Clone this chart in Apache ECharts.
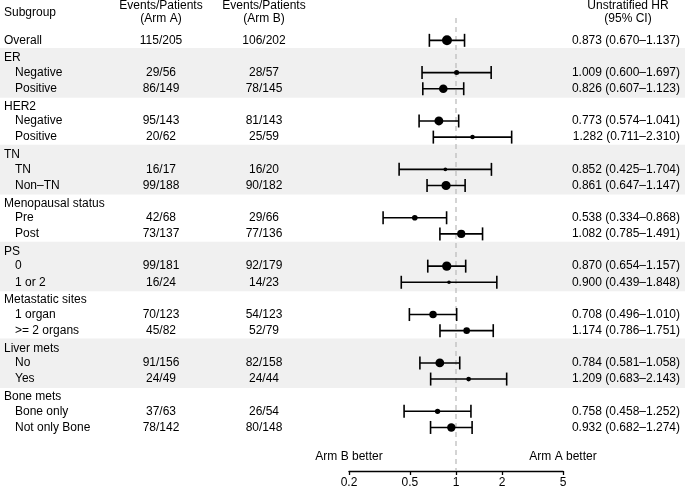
<!DOCTYPE html>
<html>
<head>
<meta charset="utf-8">
<script src="https://cdn.jsdelivr.net/npm/echarts@6/dist/echarts.min.js"></script>
<style>
html,body{margin:0;padding:0;background:#fff;}
#chart{width:685px;height:490px;}
</style>
</head>
<body>
<div id="chart"></div>
<script>
// ---------- data ----------
const groupLabels = ['ER','HER2','TN','Menopausal status','PS','Metastatic sites','Liver mets','Bone mets'];
const rowLabels = ['Overall','Negative','Positive','Negative','Positive','TN','Non\u2013TN','Pre','Post','0','1 or 2','1 organ','>= 2 organs','No','Yes','Bone only','Not only Bone'];
const armA = ['115/205','29/56','86/149','95/143','20/62','16/17','99/188','42/68','73/137','99/181','16/24','70/123','45/82','91/156','24/49','37/63','78/142'];
const armB = ['106/202','28/57','78/145','81/143','25/59','16/20','90/182','29/66','77/136','92/179','14/23','54/123','52/79','82/158','24/44','26/54','80/148'];
const hr = [0.873,1.009,0.826,0.773,1.282,0.852,0.861,0.538,1.082,0.870,0.900,0.708,1.174,0.784,1.209,0.758,0.932];
const lo = [0.670,0.600,0.607,0.574,0.711,0.425,0.647,0.334,0.785,0.654,0.439,0.496,0.786,0.581,0.683,0.458,0.682];
const hi = [1.137,1.697,1.123,1.041,2.310,1.704,1.147,0.868,1.491,1.157,1.848,1.010,1.751,1.058,2.143,1.252,1.274];
const tickLabels = [0.2,0.5,1,2,5];
const columnHeaders = ['Subgroup','Events/Patients','(Arm A)','Events/Patients','(Arm B)','Unstratified HR','(95% CI)'];
const directionLabels = ['Arm B better','Arm A better'];

// ---------- layout ----------
const FONT = '"Liberation Sans", Arial, Helvetica, sans-serif';
const Y_MIN = -2.5, Y_MAX = 26.7;
const rowY = i => i === 0 ? 0 : 2 + 3 * Math.floor((i - 1) / 2) + ((i - 1) % 2);
const headerY = g => 1.1 + 3 * g;
const lg = v => Math.log10(v);
const events = i => parseInt(armA[i].split('/')[0]) + parseInt(armB[i].split('/')[0]);

// texts in the text grid (x in px-columns, y in row units)
const texts = [];
function addText(x, y, text, align) { texts.push({x, y, text, align}); }
addText(4, -1.69, columnHeaders[0], 'left');
addText(161, -2.13, columnHeaders[1], 'center');
addText(161, -1.32, columnHeaders[2], 'center');
addText(264, -2.13, columnHeaders[3], 'center');
addText(264, -1.32, columnHeaders[4], 'center');
addText(628, -2.13, columnHeaders[5], 'center');
addText(628, -1.32, columnHeaders[6], 'center');
groupLabels.forEach((g, k) => addText(4, headerY(k), g, 'left'));
rowLabels.forEach((lab, i) => {
  const y = rowY(i);
  addText(i === 0 ? 4 : 15, y, lab, 'left');
  addText(161, y, armA[i], 'center');
  addText(264, y, armB[i], 'center');
  addText(680, y, hr[i].toFixed(3) + ' (' + lo[i].toFixed(3) + '\u2013' + hi[i].toFixed(3) + ')', 'right');
});

const bands = [];
groupLabels.forEach((g, k) => { if (k % 2 === 0) bands.push([0.48 + 3 * k, 3.56 + 3 * k]); });

const ciData = hr.map((v, i) => [lg(lo[i]), lg(hi[i]), lg(v), rowY(i), 0.67 * Math.sqrt(events(i))]);

const chart = echarts.init(document.getElementById('chart'), null, {renderer: 'canvas'});
const option = {
  animation: false,
  backgroundColor: '#fff',
  grid: [
    {left: 349, width: 214, top: 0, height: 471},
    {left: 0, width: 685, top: 0, height: 471}
  ],
  xAxis: [
    {
      gridIndex: 0, type: 'value', position: 'bottom',
      min: lg(tickLabels[0]), max: lg(tickLabels[tickLabels.length - 1]),
      axisLine: {show: true, onZero: false, lineStyle: {color: '#000', width: 1.3}},
      axisTick: {show: true, customValues: tickLabels.map(lg), length: 4, lineStyle: {color: '#000', width: 1.3}},
      axisLabel: {show: true, customValues: tickLabels.map(lg), margin: 6, color: '#000', fontSize: 12, fontFamily: FONT,
        formatter: v => { const t = Math.pow(10, v); let best = tickLabels[0]; tickLabels.forEach(k => { if (Math.abs(k - t) < Math.abs(best - t)) best = k; }); return String(best); }},
      splitLine: {show: false}
    },
    {gridIndex: 1, type: 'value', min: 0, max: 685, show: false}
  ],
  yAxis: [
    {gridIndex: 0, type: 'value', min: Y_MIN, max: Y_MAX, inverse: true, show: false},
    {gridIndex: 1, type: 'value', min: Y_MIN, max: Y_MAX, inverse: true, show: false}
  ],
  series: [
    {
      type: 'custom', xAxisIndex: 1, yAxisIndex: 1, z: 0, silent: true,
      data: bands, encode: {y: [0, 1]},
      renderItem: (params, api) => {
        const a = api.coord([0, api.value(0)]);
        const b = api.coord([685, api.value(1)]);
        return {type: 'rect', shape: {x: a[0], y: a[1], width: b[0] - a[0], height: b[1] - a[1]}, style: {fill: '#f0f0f0'}};
      }
    },
    {
      type: 'line', xAxisIndex: 0, yAxisIndex: 0, z: 1, silent: true, symbol: 'none',
      data: [[0, -1.38], [0, 26.64]],
      lineStyle: {color: '#bdbdbd', width: 1.3, type: [5, 4]}
    },
    {
      type: 'custom', xAxisIndex: 0, yAxisIndex: 0, z: 2, silent: true,
      data: ciData, encode: {x: [0, 1, 2], y: 3},
      renderItem: (params, api) => {
        const y = api.value(3);
        const p1 = api.coord([api.value(0), y]);
        const p2 = api.coord([api.value(1), y]);
        const pc = api.coord([api.value(2), y]);
        const r = api.value(4) / 2;
        const c = 6.5;
        const st = {stroke: '#000', lineWidth: 1.6};
        return {type: 'group', children: [
          {type: 'line', shape: {x1: p1[0], y1: p1[1], x2: p2[0], y2: p2[1]}, style: st},
          {type: 'line', shape: {x1: p1[0], y1: p1[1] - c, x2: p1[0], y2: p1[1] + c}, style: st},
          {type: 'line', shape: {x1: p2[0], y1: p2[1] - c, x2: p2[0], y2: p2[1] + c}, style: st},
          {type: 'circle', shape: {cx: pc[0], cy: pc[1], r: r}, style: {fill: '#000'}}
        ]};
      }
    },
    {
      type: 'custom', xAxisIndex: 1, yAxisIndex: 1, z: 3, silent: true,
      data: texts.map(t => [t.x, t.y]), encode: {x: 0, y: 1},
      renderItem: (params, api) => {
        const t = texts[params.dataIndex];
        const p = api.coord([api.value(0), api.value(1)]);
        return {type: 'text', x: p[0], y: p[1], style: {text: t.text, fill: '#000', fontSize: 12, fontFamily: FONT, align: t.align, verticalAlign: 'middle'}};
      }
    },
    {
      type: 'custom', xAxisIndex: 0, yAxisIndex: 0, z: 3, silent: true,
      data: [[lg(tickLabels[0]), 25.83], [lg(tickLabels[tickLabels.length - 1]), 25.83]], encode: {x: 0, y: 1},
      renderItem: (params, api) => {
        const p = api.coord([api.value(0), api.value(1)]);
        return {type: 'text', x: p[0], y: p[1], style: {text: directionLabels[params.dataIndex], fill: '#000', fontSize: 12, fontFamily: FONT, align: 'center', verticalAlign: 'middle'}};
      }
    }
  ]
};
chart.setOption(option);
</script>
</body>
</html>
